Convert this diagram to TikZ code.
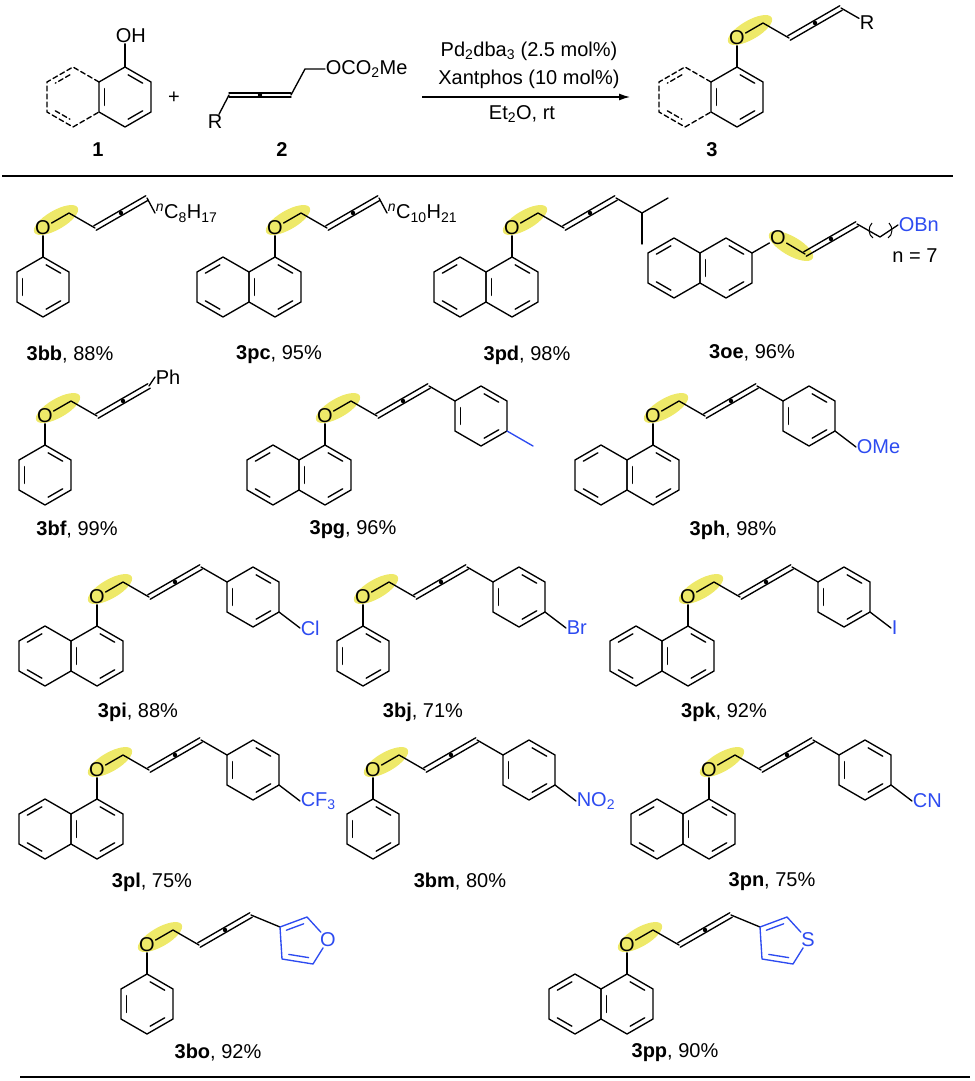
\documentclass[tikz,border=0pt]{standalone}
\usepackage{fontspec}
\setmainfont{Liberation Sans}
\usetikzlibrary{calc,shapes.geometric,arrows.meta}
\definecolor{subblue}{RGB}{45,75,240}
\definecolor{hlyellow}{RGB}{238,233,105}
\tikzset{
 bond/.style={line width=1.35pt,line cap=round,line join=round},
 atom/.style={inner sep=0.6pt,font=\fontsize{20}{22}\selectfont},
 lbl/.style={inner sep=0.6pt,font=\fontsize{20}{22}\selectfont},
 sub/.style={inner sep=0.6pt,font=\fontsize{20}{22}\selectfont,text=subblue},
 hl/.style={ellipse,fill=hlyellow,minimum width=50pt,minimum height=19pt,inner sep=0pt},
}
\newcommand\dbl[3][]{\draw[bond,#1] ($(#2:24)!0.15!(#3:24)$) -- ($(#3:24)!0.15!(#2:24)$);}
\newcommand\hexa[2]{\begin{scope}[shift={#1}]
 \draw[bond] (270:30)--(330:30)--(30:30)--(90:30)--(150:30)--(210:30)--cycle;
 \foreach \a/\b in {#2} {\dbl{\a}{\b}}
\end{scope}}
\newcommand\phen[1]{\hexa{#1}{210/150,270/330,30/90}}
\newcommand\naph[2]{\hexa{(#1,#2)}{270/330,30/90,210/150}\hexa{({#1-52},#2)}{270/210,150/90}}
\newcommand\oallene[3]{%
 \node[hl,rotate=30] at ({#2+13},{#3-8}) {};
 \node[atom] (#1) at (#2,#3) {O};
 \coordinate (#1-ring) at (#2,{#3+29.5});
 \coordinate (#1-c1) at ({#2+26},{#3-15});
 \coordinate (#1-c2) at ({#2+52},{#3});
 \coordinate (#1-c3) at ({#2+104},{#3-30});
 \draw[bond] (#1-ring) -- (#1);
 \draw[bond] (#1) -- (#1-c1) -- (#1-c2);
 \draw[bond] ($(#1-c2)+(1.25,2.2)$) -- ($(#1-c3)+(1.25,2.2)$);
 \draw[bond] ($(#1-c2)+(-1.25,-2.2)$) -- ($(#1-c3)+(-1.25,-2.2)$);
 \fill ($(#1-c2)!0.5!(#1-c3)$) circle (2.2);
}
\newcommand\aryl[1]{%
 \coordinate (#1-ipso) at ($(#1-c3)+(26,15)$);
 \coordinate (#1-ctr) at ($(#1-c3)+(52,30)$);
 \coordinate (#1-para) at ($(#1-c3)+(78,45)$);
 \draw[bond] (#1-c3) -- (#1-ipso);
 \phen{(#1-ctr)}%
}
\newcommand\arylsub[2]{\aryl{#1}
 \node[sub,anchor=west] (#1-s) at ($(#1-para)+(21,16)$) {#2};
 \draw[bond] (#1-para) -- (#1-s.west);}
\newcommand\hetero[2]{% five-membered ring from c3
 \begin{scope}[shift={(#1-c3)}]
 \coordinate (#1-a) at (29,12); \coordinate (#1-t) at (56,2);
 \coordinate (#1-br) at (62,49); \coordinate (#1-bl) at (31,44);
 \node[sub] (#1-x) at (77,25) {#2};
 \draw[bond] (0,0) -- (#1-a);
 \draw[bond,subblue] (#1-x) -- (#1-t) -- (#1-a) -- (#1-bl) -- (#1-br) -- (#1-x);
 \draw[bond,subblue] ($(#1-a)!0.18!(#1-t)+(1.5,5)$) -- ($(#1-t)!0.18!(#1-a)+(1.5,5)$);
 \draw[bond,subblue] ($(#1-bl)!0.18!(#1-br)+(1.2,-5.5)$) -- ($(#1-br)!0.18!(#1-bl)+(1.2,-5.5)$);
 \end{scope}}
\begin{document}
\begin{tikzpicture}[x=1pt,y=-1pt]
\useasboundingbox (0,0) rectangle (974,1081);
% ---------- header ----------
\begin{scope}[shift={(125,97)}]
 \draw[bond] (270:30)--(330:30)--(30:30)--(90:30)--(150:30)--(210:30)--cycle;
 \dbl{270}{330}\dbl{30}{90}\dbl{210}{150}
\end{scope}
\begin{scope}[shift={(73,97)}]
 \draw[bond,dash pattern=on 5pt off 3pt] (330:30)--(270:30)--(210:30)--(150:30)--(90:30)--(30:30);
 \dbl[dash pattern=on 5pt off 3pt]{270}{210}\dbl[dash pattern=on 5pt off 3pt]{150}{90}
\end{scope}
\node[atom,anchor=west] (oh) at (115,36) {OH};
\coordinate (h1top) at (125,67);
\draw[bond] (h1top) -- (oh.south west -| h1top);
\node[lbl,font=\fontsize{20}{22}\selectfont\bfseries] (n1) at (98,150) {1};
\node[lbl] (plus) at (174,98) {+};
\node[atom] (r2) at (215,122) {R};
\coordinate (a1) at (229,95); \coordinate (a3) at (291,95);
\coordinate (a4) at (305,69);
\node[atom,anchor=west] (oco) at (325,69) {OCO\textsubscript{2}Me};
\draw[bond] (r2) -- (a1);
\draw[bond] ($(a1)+(0,-2)$) -- ($(a3)+(0,-2)$);
\draw[bond] ($(a1)+(0,2)$) -- ($(a3)+(0,2)$);
\fill ($(a1)!0.5!(a3)$) circle (2.2);
\draw[bond] (a3) -- (a4) -- (oco.west);
\node[lbl,font=\fontsize{20}{22}\selectfont\bfseries] (n2) at (282,150) {2};
\coordinate (arrA) at (422,97); \coordinate (arrB) at (630,97);
\draw[line width=1.3pt,-{Latex[length=11pt,width=7pt]}] (arrA) -- (arrB);
\node[lbl] (cond1) at (529,51) {Pd\textsubscript{2}dba\textsubscript{3} (2.5 mol\%)};
\node[lbl] (cond2) at (529,79) {Xantphos (10 mol\%)};
\node[lbl] (cond3) at (522,114) {Et\textsubscript{2}O, rt};
\oallene{p3}{737}{38}
\begin{scope}[shift={(737,97)}]
 \draw[bond] (270:30)--(330:30)--(30:30)--(90:30)--(150:30)--(210:30)--cycle;
 \dbl{270}{330}\dbl{30}{90}\dbl{210}{150}
\end{scope}
\begin{scope}[shift={(685,97)}]
 \draw[bond,dash pattern=on 5pt off 3pt] (330:30)--(270:30)--(210:30)--(150:30)--(90:30)--(30:30);
 \dbl[dash pattern=on 5pt off 3pt]{270}{210}\dbl[dash pattern=on 5pt off 3pt]{150}{90}
\end{scope}
\node[atom] (r3) at (867,23) {R};
\draw[bond] (p3-c3) -- (r3);
\node[lbl,font=\fontsize{20}{22}\selectfont\bfseries] (n3) at (712,150) {3};
\coordinate (l1a) at (2,176); \coordinate (l1b) at (953,176);
\draw[line width=1.4pt] (l1a) -- (l1b);
% ---------- row 1 ----------
\oallene{bb}{43}{228}\phen{(43,287)}
\node[lbl,anchor=west] (bbs) at (155,213) {\textsuperscript{\itshape n}C\textsubscript{8}H\textsubscript{17}};
\draw[bond] (bb-c3) -- (bbs.west);
\node[lbl] at (70,355) {\textbf{3bb}, 88\%};
\oallene{pc}{275}{228}\naph{275}{287}
\node[lbl,anchor=west] (pcs) at (387,213) {\textsuperscript{\itshape n}C\textsubscript{10}H\textsubscript{21}};
\draw[bond] (pc-c3) -- (pcs.west);
\node[lbl] at (279,355) {\textbf{3pc}, 95\%};
\oallene{pd}{512}{228}\naph{512}{287}
\coordinate (pdch) at ($(pd-c3)+(26,15)$);
\coordinate (pdm1) at ($(pdch)+(26,-15)$);
\coordinate (pdm2) at ($(pdch)+(0,31)$);
\draw[bond] (pd-c3) -- (pdch) -- (pdm1); \draw[bond] (pdch) -- (pdm2);
\node[lbl] at (527,355) {\textbf{3pd}, 98\%};
% 3oe
\naph{726}{268}
\node[hl,rotate=-30] at (791,246) {};
\node[atom] (oe) at (778,238) {O};
\coordinate (oe-ar) at (752,253);
\coordinate (oe-c1) at (805,254);
\coordinate (oe-c3) at (857,224);
\draw[bond] (oe-ar) -- (oe) -- (oe-c1);
\draw[bond] ($(oe-c1)+(1.25,2.2)$) -- ($(oe-c3)+(1.25,2.2)$);
\draw[bond] ($(oe-c1)+(-1.25,-2.2)$) -- ($(oe-c3)+(-1.25,-2.2)$);
\fill ($(oe-c1)!0.5!(oe-c3)$) circle (2.2);
\coordinate (oe-c4) at (880,237);
\node[sub,anchor=west] (oeo) at (898,225) {OBn};
\draw[bond] (oe-c3) -- (oe-c4) -- (oeo.west);
\draw[line width=1pt] (873,238) .. controls (868,235) and (868,227) .. (872,223);
\draw[line width=1pt] (888,238) .. controls (893,235) and (893,227) .. (889,223);
\node[lbl] (oen) at (915,256) {n = 7};
\node[lbl] at (752,353) {\textbf{3oe}, 96\%};
% ---------- row 2 ----------
\oallene{bf}{45}{416}\phen{(45,475)}
\node[lbl,anchor=west] (bfs) at (155,377) {Ph};
\draw[bond] (bf-c3) -- (bfs.west);
\node[lbl] at (77,530) {\textbf{3bf}, 99\%};
\oallene{pg}{325}{416}\naph{325}{475}
\aryl{pg}
\coordinate (pgme) at ($(pg-para)+(26,15)$);
\draw[bond,subblue] (pg-para) -- (pgme);
\node[lbl] at (353,530) {\textbf{3pg}, 96\%};
\oallene{ph}{653}{416}\naph{653}{475}
\arylsub{ph}{OMe}
\node[lbl] at (733,530) {\textbf{3ph}, 98\%};
% ---------- row 3 ----------
\oallene{pi}{97}{597}\naph{97}{656}
\arylsub{pi}{Cl}
\node[lbl] at (138,712) {\textbf{3pi}, 88\%};
\oallene{bj}{363}{597}\phen{(363,656)}
\arylsub{bj}{Br}
\node[lbl] at (423,712) {\textbf{3bj}, 71\%};
\oallene{pk}{688}{597}\naph{688}{656}
\arylsub{pk}{I}
\node[lbl] at (724,712) {\textbf{3pk}, 92\%};
% ---------- row 4 ----------
\oallene{pl}{97}{770}\naph{97}{829}
\arylsub{pl}{CF\textsubscript{3}}
\node[lbl] at (152,882) {\textbf{3pl}, 75\%};
\oallene{bm}{373}{770}\phen{(373,829)}
\arylsub{bm}{NO\textsubscript{2}}
\node[lbl] at (460,882) {\textbf{3bm}, 80\%};
\oallene{pn}{709}{770}\naph{709}{829}
\arylsub{pn}{CN}
\node[lbl] at (772,882) {\textbf{3pn}, 75\%};
% ---------- row 5 ----------
\oallene{bo}{147}{945}\phen{(147,1004)}
\hetero{bo}{O}
\node[lbl] at (218,1053) {\textbf{3bo}, 92\%};
\oallene{pp}{627}{945}\naph{627}{1004}
\hetero{pp}{S}
\node[lbl] at (675,1053) {\textbf{3pp}, 90\%};
\coordinate (l2a) at (20,1077); \coordinate (l2b) at (970,1077);
\draw[line width=1.4pt] (l2a) -- (l2b);
\end{tikzpicture}
\end{document}
